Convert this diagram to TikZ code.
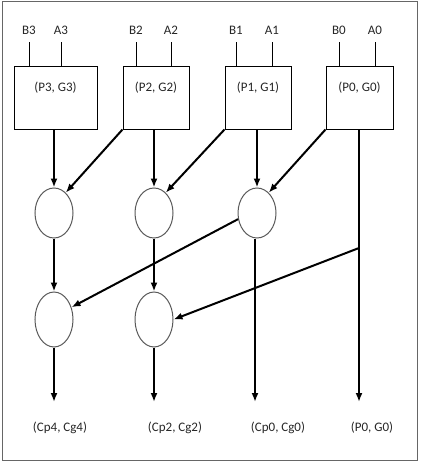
\documentclass[tikz,border=0pt]{standalone}
\usepackage{fontspec}
\setmainfont{Carlito}
\usetikzlibrary{shapes.geometric,arrows.meta}
\begin{document}
\begin{tikzpicture}[x=1pt,y=-1pt,
  lbl/.style={font=\fontsize{13}{15}\selectfont,text=black!85,inner sep=0pt},
  box/.style={draw=black,line width=1pt,minimum width=#1,minimum height=63pt,inner sep=0pt},
  gate/.style={ellipse,draw=black!65,line width=1pt,minimum width=38pt,minimum height=50pt,inner sep=0pt},
  wire/.style={line width=1pt},
  arr/.style={line width=2pt,-{Latex[length=9pt,width=7pt]}}]
\useasboundingbox (0,0) rectangle (421,463);
\draw[black!60,line width=1pt] (2,1) rectangle (417,460);
% boxes
\node[box=83pt,label={[lbl,anchor=north,yshift=-16pt]north:(P3, G3)}] (p3) at (55.5,97.5) {};
\node[box=66pt,label={[lbl,anchor=north,yshift=-16pt]north:(P2, G2)}] (p2) at (156,97.5) {};
\node[box=66pt,label={[lbl,anchor=north,yshift=-16pt]north:(P1, G1)}] (p1) at (258,97.5) {};
\node[box=67pt,label={[lbl,anchor=north,yshift=-16pt]north:(P0, G0)}] (p0) at (359.5,97.5) {};
% inputs
\foreach \n/\x/\t in {b3/29/B3,a3/61/A3,b2/136/B2,a2/171/A2,b1/236/B1,a1/272/A1,b0/339/B0,a0/375/A0}{
  \node[lbl,anchor=south] (\n) at (\x,35) {\t};
}
\foreach \n/\b in {b3/p3,a3/p3,b2/p2,a2/p2,b1/p1,a1/p1,b0/p0,a0/p0}{
  \draw[wire] ([yshift=-7pt]\n.south) -- (\n.south |- \b.north);
}
% gates
\node[gate] (g31) at (54,213) {};
\node[gate] (g21) at (154,213) {};
\node[gate] (g11) at (257,213) {};
\node[gate,minimum height=55pt] (g32) at (54,319.5) {};
\node[gate,minimum height=55pt] (g22) at (154,319.5) {};
% outputs
\node[lbl] (o3) at (60,428) {(Cp4, Cg4)};
\node[lbl] (o2) at (175,428) {(Cp2, Cg2)};
\node[lbl] (o1) at (278,428) {(Cp0, Cg0)};
\node[lbl] (o0) at (372,428) {(P0, G0)};
\coordinate (t3) at (54,402);
\coordinate (t2) at (154,402);
\coordinate (t1) at (255,402);
\coordinate (t0) at (359,402);
\coordinate (j0) at (359,248);
% connectors
\draw[arr] (g31.north |- p3.south) -- (g31.north);
\draw[arr] (g21.north |- p2.south) -- (g21.north);
\draw[arr] (g11.north |- p1.south) -- (g11.north);
\draw[arr] (p2.south west) -- (g31.60);
\draw[arr] (p1.south west) -- (g21.60);
\draw[arr] (p0.south west) -- (g11.60);
\draw[arr] (g31.south) -- (g32.north);
\draw[arr] (g21.south) -- (g22.north);
\draw[arr] (g11.198) -- (g32.35);
\draw[arr] (j0) -- (g22.east);
\draw[arr] (g32.south) -- (t3);
\draw[arr] (g22.south) -- (t2);
\draw[arr] (g11.south -| t1) -- (t1);
\draw[arr] (t0 |- p0.south) -- (t0);
\end{tikzpicture}
\end{document}
